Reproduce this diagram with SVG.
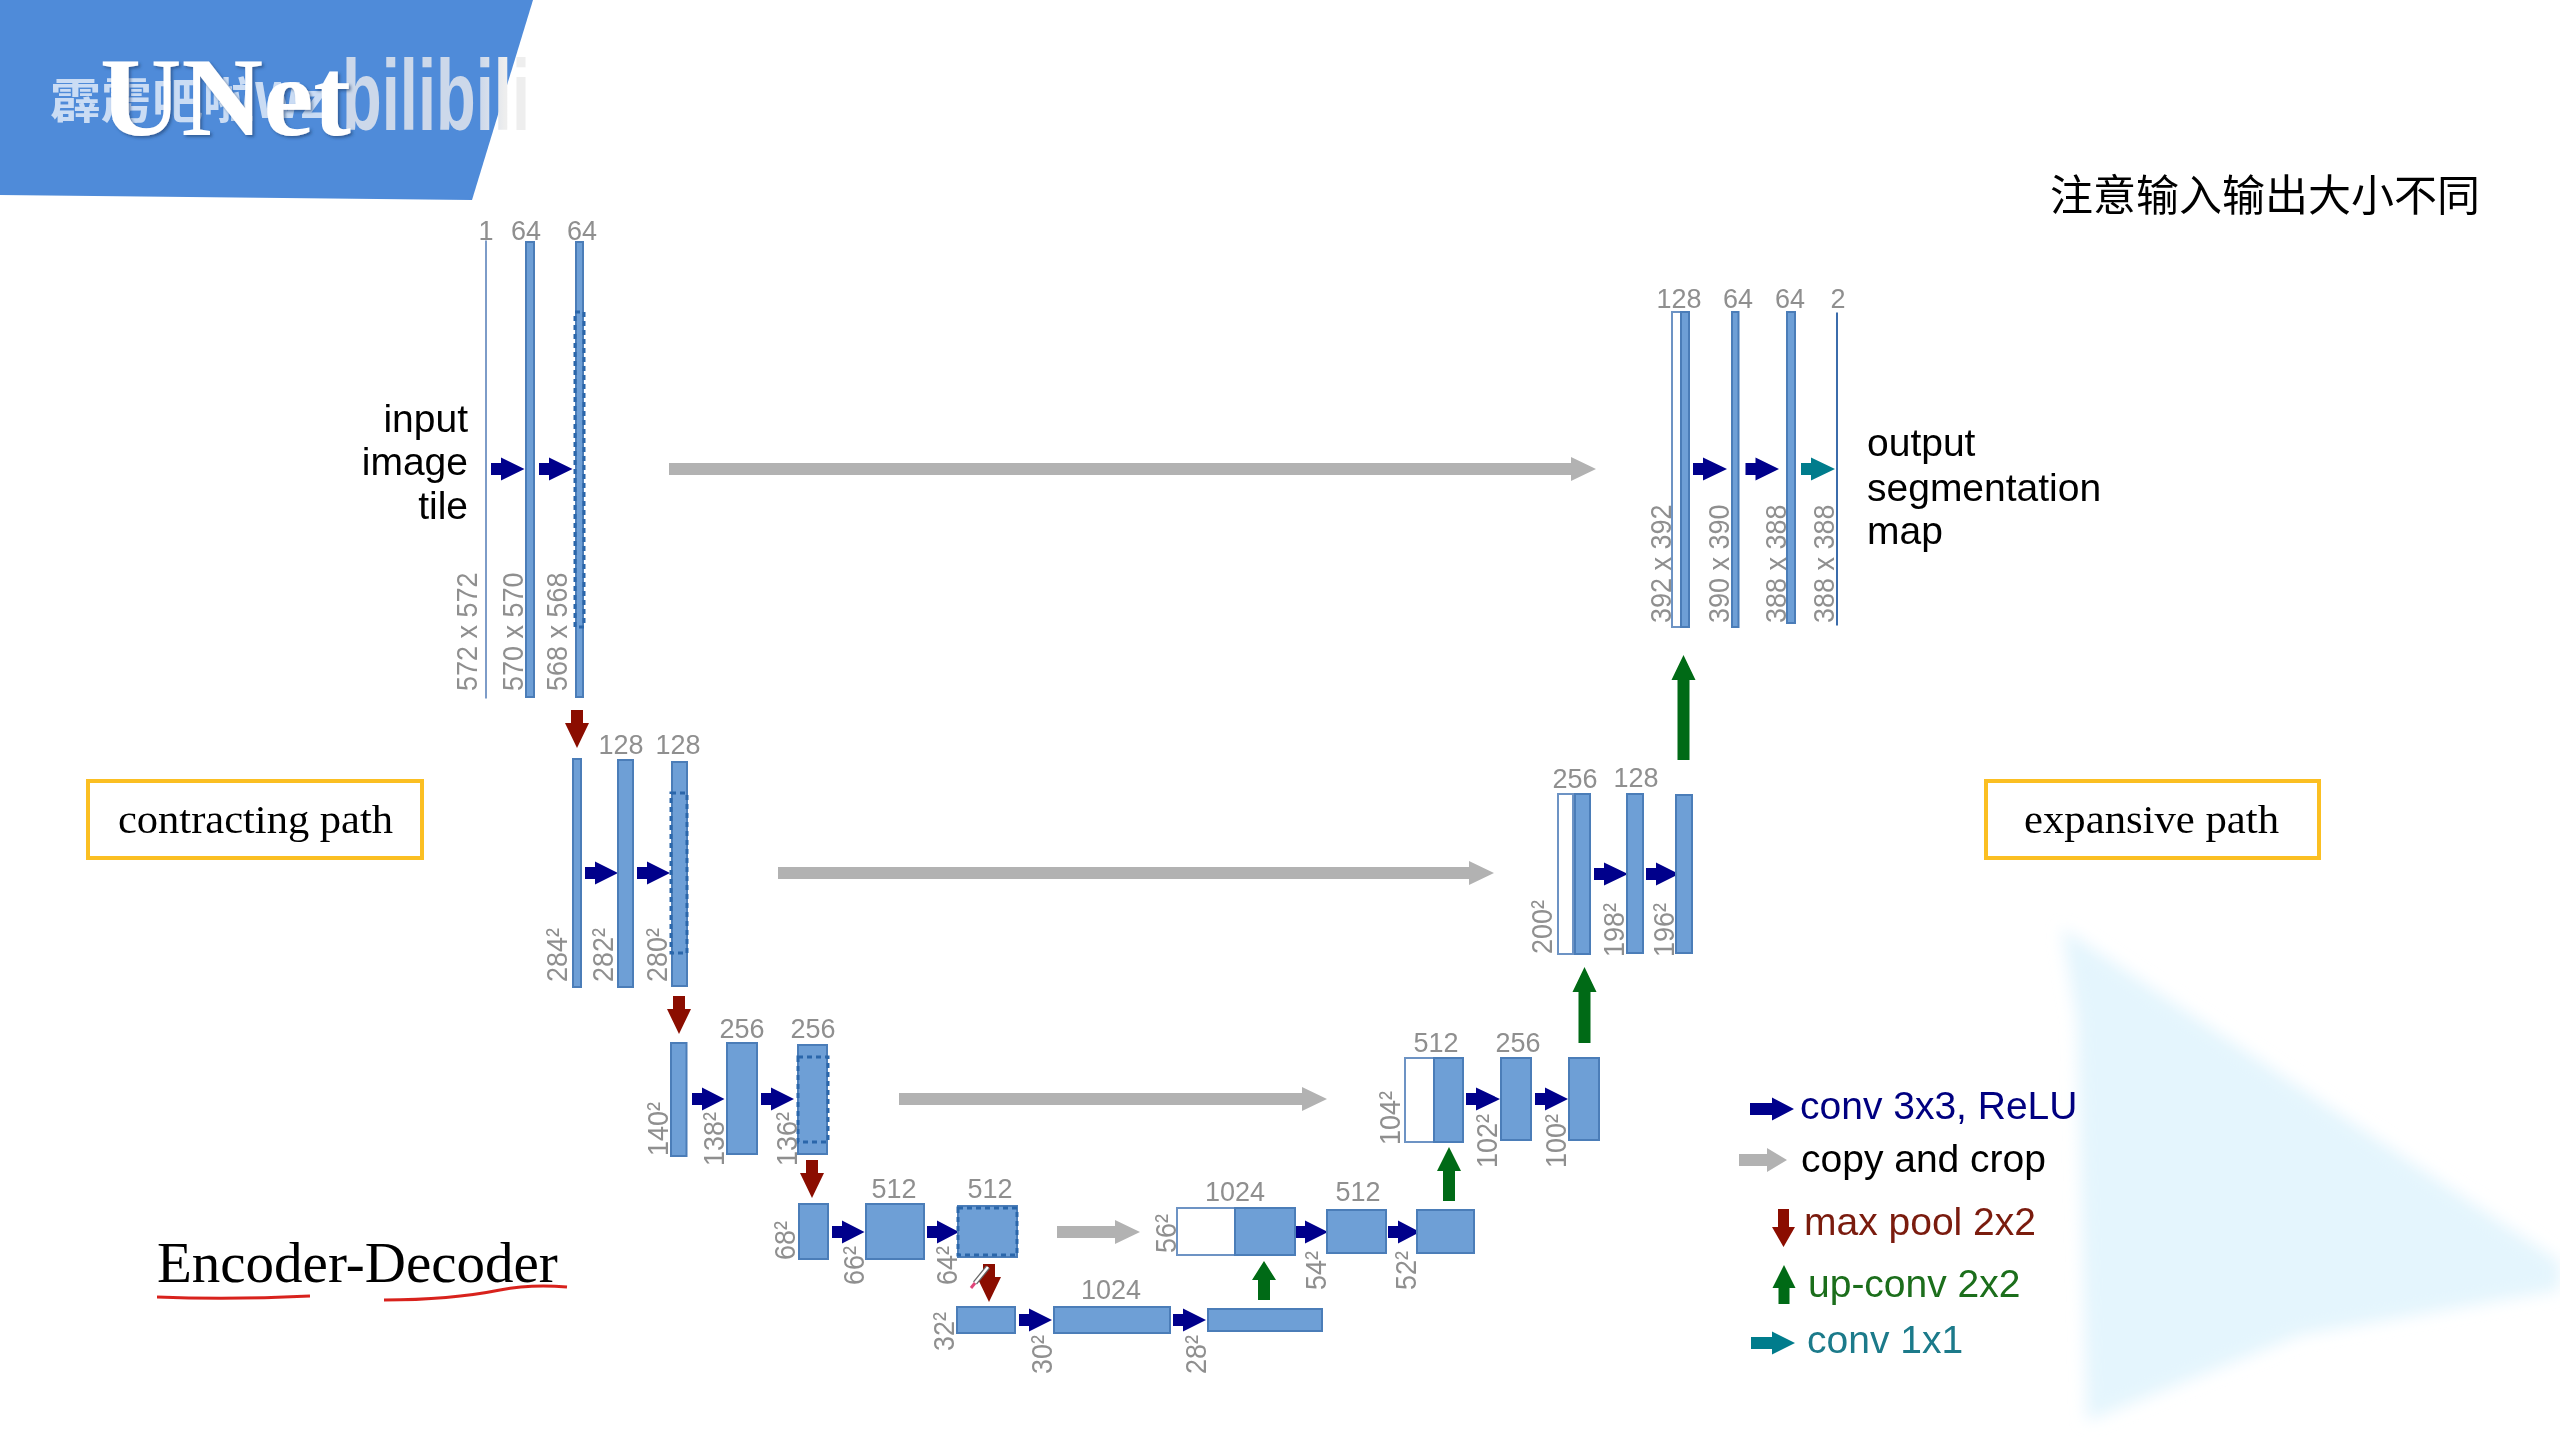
<svg xmlns="http://www.w3.org/2000/svg" width="2560" height="1440" viewBox="0 0 2560 1440">
<defs>
<style>
text{font-family:"Liberation Sans",Arial,"Noto Sans CJK SC",sans-serif}
.bar{fill:#6e9fd6;stroke:#4c7db8;stroke-width:2}
.crop{fill:#fff;stroke:#6d93c4;stroke-width:2}
.dash{fill:none;stroke:#2a66aa;stroke-width:3;stroke-dasharray:5 4}
.lab{fill:#8f8f8f;font-size:27px;text-anchor:middle}
.v{fill:#8f8f8f;font-size:27px}
.cap{fill:#000;font-size:39px}
.conv{fill:#00008b}.copy{fill:#b2b2b2}.pool{fill:#8b0e04}.up{fill:#056b12}.one{fill:#047c8c}
.box{fill:#fff;stroke:#fbbf24;stroke-width:4}
.serif{font-family:"Liberation Serif","Times New Roman",serif;fill:#000}
.leg{font-size:39px}
</style>
<linearGradient id="bl" gradientUnits="userSpaceOnUse" x1="480" y1="0" x2="505" y2="0">
<stop offset="0" stop-color="#ccd8ea"/><stop offset="1" stop-color="#eeeeee"/>
</linearGradient>
<filter id="soft" x="-5%" y="-5%" width="110%" height="110%"><feGaussianBlur stdDeviation="8"/></filter>
<filter id="sh" x="-5%" y="-5%" width="115%" height="115%"><feDropShadow dx="2" dy="2" stdDeviation="1.5" flood-color="#1c3f70" flood-opacity=".6"/></filter>
<filter id="frame" filterUnits="userSpaceOnUse" x="0" y="0" width="2560" height="1440"><feGaussianBlur stdDeviation="0.6"/></filter>
</defs>
<rect width="2560" height="1440" fill="#fff"/>
<polygon points="2062,928 2560,1262 2560,1290 2300,1335 2087,1421 2077,1020" fill="#e4f5fd" filter="url(#soft)"/>
<g filter="url(#frame)">
<g id="banner">
<polygon points="0,0 533,0 472,200 0,195" fill="#4f8bd9"/>
<text x="50" y="118" font-size="48" font-weight="bold" fill="#fff" fill-opacity=".7" textLength="276" lengthAdjust="spacingAndGlyphs" style="font-family:'Noto Sans CJK SC',sans-serif">霹雳吧啦Wz</text>
<text x="342" y="130" font-size="100" font-weight="bold" fill="url(#bl)" textLength="188" lengthAdjust="spacingAndGlyphs">bilibili</text>
<text x="100" y="135" font-size="113" font-weight="bold" fill="#fff" filter="url(#sh)" style="font-family:'Liberation Serif',serif">UNet</text>
</g>

<text id="note" x="2050" y="211" font-size="43" fill="#000" style="font-family:'Noto Sans CJK SC',sans-serif">注意输入输出大小不同</text>

<g id="connectors">
<g class="conv">
<polygon points="491,463 501,463 501,457.5 524.5,469 501,480.5 501,475 491,475"/>
<polygon points="539,463 549,463 549,457.5 572.5,469 549,480.5 549,475 539,475"/>
<polygon points="1693,463 1703,463 1703,457.5 1727,469 1703,480.5 1703,475 1693,475"/>
<polygon points="1745.5,463 1755.5,463 1755.5,457.5 1779,469 1755.5,480.5 1755.5,475 1745.5,475"/>
<polygon points="585,867 595,867 595,861.5 618,873 595,884.5 595,879 585,879"/>
<polygon points="637,867 647,867 647,861.5 670,873 647,884.5 647,879 637,879"/>
<polygon points="1594,868 1604,868 1604,862.5 1628,874 1604,885.5 1604,880 1594,880"/>
<polygon points="1646,868 1656,868 1656,862.5 1679,874 1656,885.5 1656,880 1646,880"/>
<polygon points="692,1093 702,1093 702,1087.5 724.5,1099 702,1110.5 702,1105 692,1105"/>
<polygon points="761,1093 771,1093 771,1087.5 794,1099 771,1110.5 771,1105 761,1105"/>
<polygon points="1466,1093 1476,1093 1476,1087.5 1500,1099 1476,1110.5 1476,1105 1466,1105"/>
<polygon points="1535,1093 1545,1093 1545,1087.5 1568,1099 1545,1110.5 1545,1105 1535,1105"/>
<polygon points="832,1226 842,1226 842,1220.5 864.5,1232 842,1243.5 842,1238 832,1238"/>
<polygon points="927,1226 937,1226 937,1220.5 959,1232 937,1243.5 937,1238 927,1238"/>
<polygon points="1295,1226 1305,1226 1305,1220.5 1328,1232 1305,1243.5 1305,1238 1295,1238"/>
<polygon points="1388,1226 1398,1226 1398,1220.5 1420,1232 1398,1243.5 1398,1238 1388,1238"/>
<polygon points="1019,1314 1029,1314 1029,1308.5 1052,1320 1029,1331.5 1029,1326 1019,1326"/>
<polygon points="1173,1314 1183,1314 1183,1308.5 1206,1320 1183,1331.5 1183,1326 1173,1326"/>
</g>
<polygon class="one" points="1801,463 1811,463 1811,457.5 1835,469 1811,480.5 1811,475 1801,475"/>
<g class="copy">
<polygon points="669,463 1571,463 1571,457 1596,469 1571,481 1571,475 669,475"/>
<polygon points="778,867 1469,867 1469,861 1494,873 1469,885 1469,879 778,879"/>
<polygon points="899,1093 1302,1093 1302,1087 1327,1099 1302,1111 1302,1105 899,1105"/>
<polygon points="1057,1226 1115,1226 1115,1220 1140,1232 1115,1244 1115,1238 1057,1238"/>
</g>
<g class="pool">
<polygon points="571,710 583,710 583,723 589,723 577,748 565,723 571,723"/>
<polygon points="673,996 685,996 685,1009 691,1009 679,1034 667,1009 673,1009"/>
<polygon points="806,1160 818,1160 818,1173 824,1173 812,1198 800,1173 806,1173"/>
<polygon points="983,1264 995,1264 995,1277 1001,1277 989,1302 977,1277 983,1277"/>
</g>
<g class="up">
<polygon points="1258,1300 1270,1300 1270,1280 1276,1280 1264,1261 1252,1280 1258,1280"/>
<polygon points="1443,1201 1455,1201 1455,1171 1461,1171 1449,1147 1437,1171 1443,1171"/>
<polygon points="1578.5,1043 1590.5,1043 1590.5,992 1596.5,992 1584.5,967 1572.5,992 1578.5,992"/>
<polygon points="1677.5,760 1689.5,760 1689.5,680 1695.5,680 1683.5,655 1671.5,680 1677.5,680"/>
</g>
</g>

<g id="n-input">
<rect x="485.5" y="241" width="1" height="457" fill="#7d9cc8" stroke="#7d9cc8"/>
<text class="lab" x="486" y="240">1</text>
<text class="v" transform="translate(477,691) rotate(-90) scale(1,1.12)">572 x 572</text>
<text class="cap" x="468" y="432" text-anchor="end">input</text>
<text class="cap" x="468" y="475" text-anchor="end">image</text>
<text class="cap" x="468" y="519" text-anchor="end">tile</text>
</g>
<g id="n-d1a"><rect class="bar" x="526" y="242" width="8" height="455"/><text class="lab" x="526" y="240">64</text><text class="v" transform="translate(523,691) rotate(-90) scale(1,1.12)">570 x 570</text></g>
<g id="n-d1b"><rect class="bar" x="576" y="242" width="7" height="455"/><rect class="dash" x="575" y="312" width="9" height="315"/><text class="lab" x="582" y="240">64</text><text class="v" transform="translate(567,691) rotate(-90) scale(1,1.12)">568 x 568</text></g>

<g id="n-d2a"><rect class="bar" x="573" y="759" width="8" height="228"/><text class="v" transform="translate(567,982) rotate(-90) scale(1,1.12)">284²</text></g>
<g id="n-d2b"><rect class="bar" x="618" y="760" width="15" height="227"/><text class="lab" x="621" y="754">128</text><text class="v" transform="translate(613,982) rotate(-90) scale(1,1.12)">282²</text></g>
<g id="n-d2c"><rect class="bar" x="672" y="762" width="15" height="224"/><rect class="dash" x="671" y="793" width="16" height="160"/><text class="lab" x="678" y="754">128</text><text class="v" transform="translate(667,982) rotate(-90) scale(1,1.12)">280²</text></g>

<g id="n-d3a"><rect class="bar" x="671" y="1043" width="15.500" height="113"/><text class="v" transform="translate(668,1156) rotate(-90) scale(1,1.12)">140²</text></g>
<g id="n-d3b"><rect class="bar" x="727" y="1043" width="30" height="111"/><text class="lab" x="742" y="1038">256</text><text class="v" transform="translate(724,1166) rotate(-90) scale(1,1.12)">138²</text></g>
<g id="n-d3c"><rect class="bar" x="798" y="1045" width="29" height="109"/><rect class="dash" x="798" y="1057" width="30" height="85"/><text class="lab" x="813" y="1038">256</text><text class="v" transform="translate(797,1166) rotate(-90) scale(1,1.12)">136²</text></g>

<g id="n-d4a"><rect class="bar" x="799" y="1204" width="29" height="55"/><text class="v" transform="translate(795,1260) rotate(-90) scale(1,1.12)">68²</text></g>
<g id="n-d4b"><rect class="bar" x="866" y="1204" width="58" height="55"/><text class="lab" x="894" y="1198">512</text><text class="v" transform="translate(864,1285) rotate(-90) scale(1,1.12)">66²</text></g>
<g id="n-d4c"><rect class="bar" x="958" y="1206" width="59" height="51"/><rect class="dash" x="958" y="1208" width="59" height="47"/><text class="lab" x="990" y="1198">512</text><text class="v" transform="translate(957,1285) rotate(-90) scale(1,1.12)">64²</text></g>

<g id="n-b1"><rect class="bar" x="957" y="1307" width="58" height="26"/><text class="v" transform="translate(954,1351) rotate(-90) scale(1,1.12)">32²</text></g>
<g id="n-b2"><rect class="bar" x="1054" y="1307" width="116" height="26"/><text class="lab" x="1111" y="1299">1024</text><text class="v" transform="translate(1052,1374) rotate(-90) scale(1,1.12)">30²</text></g>
<g id="n-b3"><rect class="bar" x="1208" y="1309" width="114" height="22"/><text class="v" transform="translate(1206,1374) rotate(-90) scale(1,1.12)">28²</text></g>

<g id="n-u4a"><rect class="crop" x="1177" y="1208" width="58" height="47"/><rect class="bar" x="1235" y="1208" width="60" height="47"/><text class="lab" x="1235" y="1201">1024</text><text class="v" transform="translate(1176,1253) rotate(-90) scale(1,1.12)">56²</text></g>
<g id="n-u4b"><rect class="bar" x="1327" y="1210" width="59" height="43"/><text class="lab" x="1358" y="1201">512</text><text class="v" transform="translate(1326,1290) rotate(-90) scale(1,1.12)">54²</text></g>
<g id="n-u4c"><rect class="bar" x="1417" y="1210" width="57" height="43"/><text class="v" transform="translate(1416,1290) rotate(-90) scale(1,1.12)">52²</text></g>

<g id="n-u3a"><rect class="crop" x="1405" y="1058" width="29" height="84"/><rect class="bar" x="1434" y="1058" width="29" height="84"/><text class="lab" x="1436" y="1052">512</text><text class="v" transform="translate(1400,1145) rotate(-90) scale(1,1.12)">104²</text></g>
<g id="n-u3b"><rect class="bar" x="1501" y="1058" width="30" height="82"/><text class="lab" x="1518" y="1052">256</text><text class="v" transform="translate(1497,1168) rotate(-90) scale(1,1.12)">102²</text></g>
<g id="n-u3c"><rect class="bar" x="1569" y="1058" width="30" height="82"/><text class="v" transform="translate(1566,1168) rotate(-90) scale(1,1.12)">100²</text></g>

<g id="n-u2a"><rect class="crop" x="1558" y="794" width="15" height="160"/><rect class="bar" x="1575" y="794" width="15" height="160"/><text class="lab" x="1575" y="788">256</text><text class="v" transform="translate(1552,954) rotate(-90) scale(1,1.12)">200²</text></g>
<g id="n-u2b"><rect class="bar" x="1627" y="794" width="16" height="159"/><text class="lab" x="1636" y="787">128</text><text class="v" transform="translate(1624,957) rotate(-90) scale(1,1.12)">198²</text></g>
<g id="n-u2c"><rect class="bar" x="1676" y="795" width="16" height="158"/><text class="v" transform="translate(1674,957) rotate(-90) scale(1,1.12)">196²</text></g>

<g id="n-u1a"><rect class="crop" x="1672" y="312" width="9" height="315"/><rect class="bar" x="1681" y="312" width="8" height="315"/><text class="lab" x="1679" y="308">128</text><text class="v" transform="translate(1671,623) rotate(-90) scale(1,1.12)">392 x 392</text></g>
<g id="n-u1b"><rect class="bar" x="1732" y="312" width="6.500" height="315"/><text class="lab" x="1738" y="308">64</text><text class="v" transform="translate(1729,623) rotate(-90) scale(1,1.12)">390 x 390</text></g>
<g id="n-u1c"><rect class="bar" x="1787" y="312" width="8" height="311"/><text class="lab" x="1790" y="308">64</text><text class="v" transform="translate(1786,623) rotate(-90) scale(1,1.12)">388 x 388</text></g>
<g id="n-output">
<rect x="1836.500" y="313" width="1" height="312" fill="#3a6cab" stroke="#3a6cab"/>
<text class="lab" x="1838" y="308">2</text>
<text class="v" transform="translate(1834,623) rotate(-90) scale(1,1.12)">388 x 388</text>
<text class="cap" x="1867" y="456">output</text>
<text class="cap" x="1867" y="501">segmentation</text>
<text class="cap" x="1867" y="544">map</text>
</g>

<g id="contracting"><rect class="box" x="88" y="781" width="334" height="77"/><text class="serif" x="118" y="833" font-size="41" textLength="275" lengthAdjust="spacingAndGlyphs">contracting path</text></g>
<g id="expansive"><rect class="box" x="1986" y="781" width="333" height="77"/><text class="serif" x="2024" y="833" font-size="41" textLength="255" lengthAdjust="spacingAndGlyphs">expansive path</text></g>

<g id="encoder-decoder">
<text class="serif" x="157" y="1282" font-size="57">Encoder-Decoder</text>
<path d="M157,1297 Q230,1300 310,1296" fill="none" stroke="#d8231f" stroke-width="3"/>
<path d="M384,1300 Q450,1300 500,1290 Q530,1284 567,1287" fill="none" stroke="#d8231f" stroke-width="3"/>
</g>

<g id="pen"><path d="M988,1267 L975,1283" stroke="#666" stroke-width="5" fill="none"/><path d="M988,1267 L975,1283" stroke="#fff" stroke-width="2.500" fill="none"/><path d="M975,1283 L971,1288" stroke="#e0457a" stroke-width="3" fill="none"/></g>

<g id="legend">
<polygon class="conv" points="1750,1103 1772,1103 1772,1097.500 1794,1109 1772,1120.500 1772,1115 1750,1115"/>
<text class="leg" x="1800" y="1119" fill="#000080">conv 3x3, ReLU</text>
<polygon class="copy" points="1739,1154 1767,1154 1767,1148 1787,1160 1767,1172 1767,1166 1739,1166"/>
<text class="leg" x="1801" y="1172" fill="#000">copy and crop</text>
<polygon class="pool" points="1778,1209 1789,1209 1789,1227 1795,1227 1783.500,1247 1772,1227 1778,1227"/>
<text class="leg" x="1804" y="1235" fill="#7a1a10">max pool 2x2</text>
<polygon class="up" points="1778.500,1304 1789.500,1304 1789.500,1288 1795.500,1288 1784,1265 1772.500,1288 1778.500,1288"/>
<text class="leg" x="1808" y="1297" fill="#1a6e1a">up-conv 2x2</text>
<polygon class="one" points="1751,1337 1772,1337 1772,1331.500 1795,1343 1772,1354.500 1772,1349 1751,1349"/>
<text class="leg" x="1807" y="1353" fill="#1a7a8a">conv 1x1</text>
</g>
</g>
</svg>
